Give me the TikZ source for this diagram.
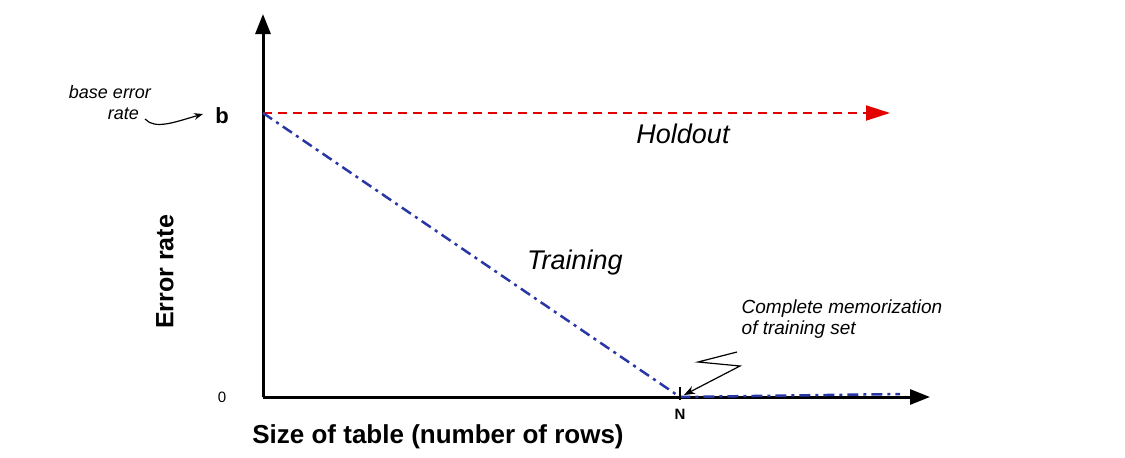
\documentclass[tikz,border=0pt]{standalone}
\usepackage{fontspec}
\setmainfont{Liberation Sans}
\setsansfont{Liberation Sans}
\usetikzlibrary{arrows.meta}
\definecolor{trainblue}{RGB}{40,55,165}
\begin{document}
\begin{tikzpicture}[x=1pt,y=-1pt,
  lab/.style={font=\itshape\fontsize{27}{30}\selectfont},
  small/.style={font=\itshape\fontsize{19}{21}\selectfont, align=left},
  axis/.style={line width=3pt,-{Triangle[length=20pt,width=15pt]}}]
\useasboundingbox (0,0) rectangle (1125,458);
\coordinate (O) at (263,397);
\coordinate (B) at (263,113);
\coordinate (N) at (680,397);
\coordinate (ytop) at (263,14);
\coordinate (xend) at (930,397);
\draw[axis] (O) -- (ytop);
\draw[axis] (O) -- (xend);
\draw[red!90!black, line width=2pt, dash pattern=on 9pt off 6pt,-{Triangle[length=24pt,width=15pt]}] (B) -- (890,113) coordinate (hend);
\draw[trainblue, line width=2.5pt, dash pattern=on 11pt off 5pt on 3pt off 5pt] (B) -- (N) -- (900,394) coordinate (tend);
\draw[line width=1.2pt] (680,387) -- (680,400);
\node[font=\bfseries\fontsize{15}{17}\selectfont] (nlab) at (680,414) {N};
\node[font=\fontsize{15}{17}\selectfont] (zero) at (222,397) {0};
\node[font=\bfseries\fontsize{22}{24}\selectfont] (blab) at (222,116) {b};
\node[lab] (hold) at (683,134) {Holdout};
\node[lab] (train) at (575,263) {Training};
\node[font=\bfseries\fontsize{25}{28}\selectfont, rotate=90] (ylab) at (165,272) {Error rate};
\node[font=\bfseries\fontsize{26}{28}\selectfont] (xlab) at (438,437) {Size of table (number of rows)};
\node[font=\itshape\fontsize{18}{21}\selectfont, align=center] (base) at (110,103) {base error\\\hspace*{1.5em}rate};
\node[small] (mem) at (842,319) {Complete memorization\\of training set};
\draw[line width=1.2pt,-{Stealth[length=9pt]}] (145,119) .. controls (155,130) and (175,122) .. (203,114);
\draw[line width=1.2pt,-{Stealth[length=11pt]}] (737,352) -- (698,362) -- (740,366) -- (684,395);
\end{tikzpicture}
\end{document}
